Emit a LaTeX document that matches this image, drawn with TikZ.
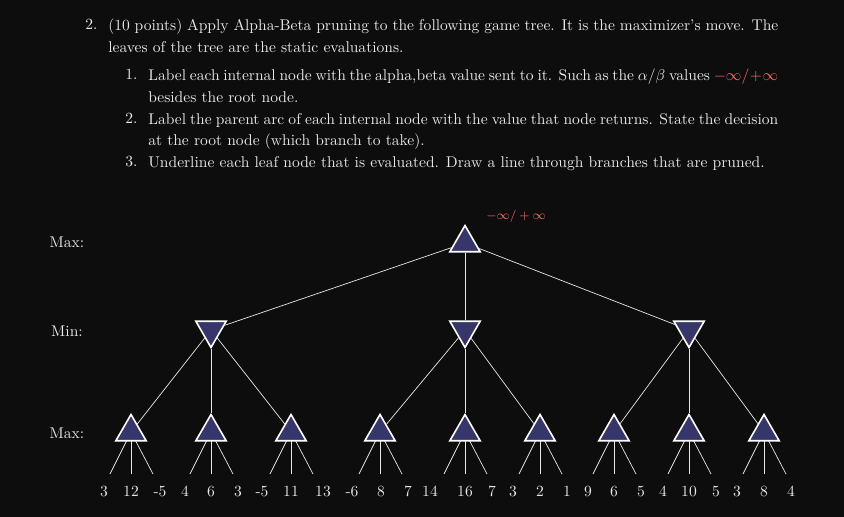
\documentclass[tikz,border=0pt]{standalone}
\usepackage{amsmath,amssymb}
\usetikzlibrary{shapes.geometric,backgrounds}
\definecolor{bg}{HTML}{0D0D0D}
\definecolor{tri}{HTML}{36366A}
\definecolor{fg}{HTML}{E8E8E8}
\definecolor{redl}{HTML}{FF6B6B}
\begin{document}
\begin{tikzpicture}[x=1bp,y=-1bp,
  txt/.style={text=fg,inner sep=0,font=\fontsize{10}{13.9}\selectfont,scale=1.56,transform shape},
  maxn/.style={regular polygon,regular polygon sides=3,minimum size=35bp,inner sep=0,draw=white,line width=1.6bp,fill=tri},
  minn/.style={maxn,shape border rotate=180},
  edge/.style={draw=fg,line width=0.7bp},
  leaf/.style={text=fg,inner sep=1bp,font=\fontsize{10}{12}\selectfont,scale=1.56,transform shape,anchor=base}]
\useasboundingbox (0,0) rectangle (844,517);
% text
\node[txt,anchor=north west] (n2) at (85,19) {2.};
\node[txt,anchor=north west,text width=429.5bp,align=justify] (p) at (108,19) {(10 points) Apply Alpha-Beta pruning to the following game tree. It is the maximizer's move. The leaves of the tree are the static evaluations.};
\node[txt,anchor=north west] (i1) at (125,69) {1.};
\node[txt,anchor=north west,text width=403.8bp,align=justify] (t1) at (148,69) {Label each internal node with the alpha,beta value sent to it. Such as the $\alpha/\beta$ values \textcolor{redl}{$-\infty/+\infty$} besides the root node.};
\node[txt,anchor=north west] (i2) at (125,113) {2.};
\node[txt,anchor=north west,text width=403.8bp,align=justify] (t2) at (148,113) {Label the parent arc of each internal node with the value that node returns. State the decision at the root node (which branch to take).};
\node[txt,anchor=north west] (i3) at (125,156) {3.};
\node[txt,anchor=north west,text width=403.8bp,align=justify] (t3) at (148,156) {Underline each leaf node that is evaluated. Draw a line through branches that are pruned.};
% level labels
\node[txt] (l1) at (67,242) {Max:};
\node[txt] (l2) at (67,331) {Min:};
\node[txt] (l3) at (67,433) {Max:};
% tree
\node[maxn] (r) at (465,243) {};
\node[txt,text=redl,font=\fontsize{8.5}{10}\selectfont] (rl) at (516,216) {$-\infty/+\infty$};
\foreach \i/\x in {1/211,2/465,3/689}{\node[minn] (m\i) at (\x,330) {};}
\foreach \i/\x in {1/131,2/211,3/291,4/380,5/465,6/540,7/614,8/689,9/764}{\node[maxn] (a\i) at (\x,432) {};}
\foreach \k/\x/\v in {1/104/3,2/131/12,3/160/-5,4/185/4,5/211/6,6/238/3,7/262/-5,8/291/11,9/323/13,10/352/-6,11/381/8,12/408/7,13/430/14,14/465/16,15/492/7,16/513/3,17/540/2,18/567/1,19/588/9,20/614/6,21/641/5,22/663/4,23/689/10,24/716/5,25/737/3,26/764/8,27/791/4}
  {\node[leaf] (f\k) at (\x,496) {\v};}
\begin{scope}[on background layer]
\fill[bg] (0,0) rectangle (844,517);
\foreach \i in {1,2,3}{\draw[edge] (r) -- (m\i);}
\foreach \i in {1,2,3}{\draw[edge] (m1) -- (a\i);}
\foreach \i in {4,5,6}{\draw[edge] (m2) -- (a\i);}
\foreach \i in {7,8,9}{\draw[edge] (m3) -- (a\i);}
\foreach \a in {1,...,9}{
  \coordinate (e1) at ([xshift=-21bp]a\a.center |- 0,474);
  \coordinate (e2) at ([xshift=0bp]a\a.center |- 0,474);
  \coordinate (e3) at ([xshift=22bp]a\a.center |- 0,474);
  \draw[edge] (a\a.center) -- (e1);
  \draw[edge,line width=1bp] (a\a.center) -- (e2);
  \draw[edge] (a\a.center) -- (e3);
}
\end{scope}
\end{tikzpicture}
\end{document}
